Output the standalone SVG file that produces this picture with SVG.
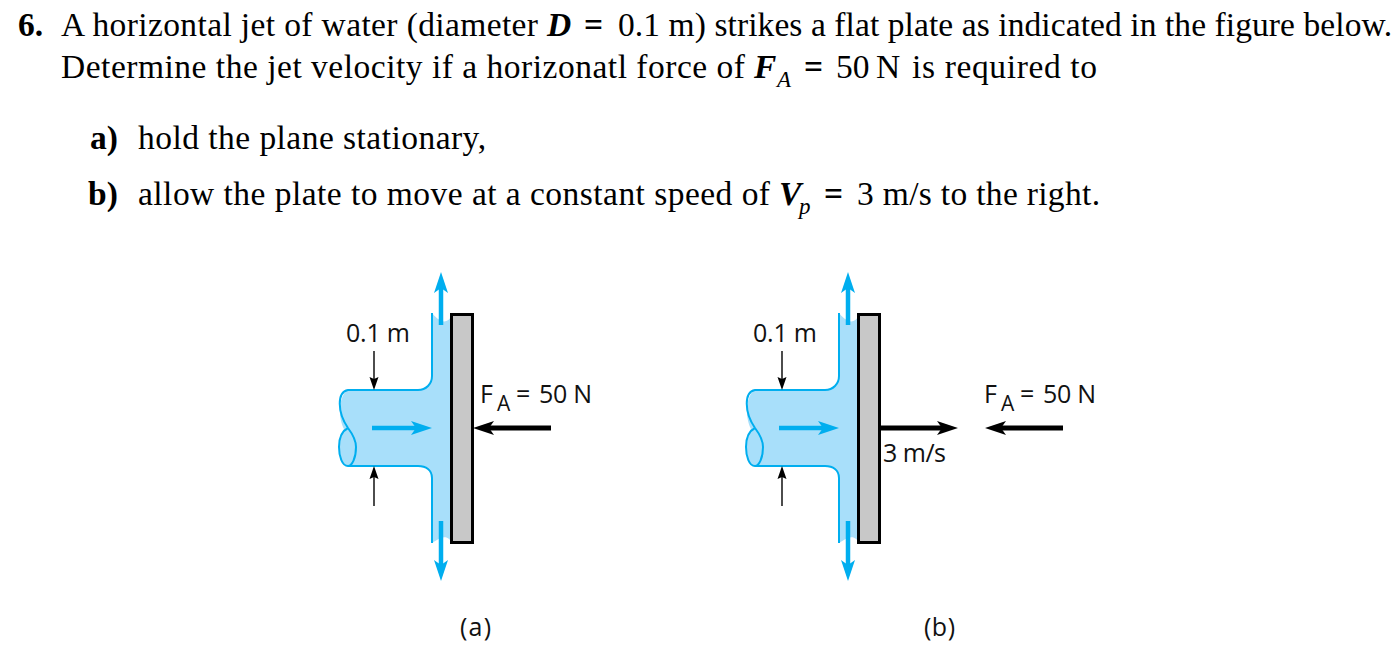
<svg xmlns="http://www.w3.org/2000/svg" xmlns:xlink="http://www.w3.org/1999/xlink" width="1398" height="654" viewBox="0 0 1398 654">
<style>
.q{font-family:"Liberation Serif","Times New Roman",serif;font-size:33.5px;fill:#000}
.b{font-weight:bold}.i{font-style:italic}
.sub{font-size:23px}
.l{font-family:"Open Sans","Noto Sans",sans-serif;font-size:25px;fill:#111}
.s{font-size:21px}
.plate{fill:#c8c8c8;stroke:#000;stroke-width:3}
.water{fill:#a8dffa;stroke:none}
.edge{fill:none;stroke:#00aeef;stroke-width:2}
.ba{stroke:#00aeef;stroke-width:4.5;fill:none}
.ka{stroke:#000;stroke-width:5;fill:none}
.ta{stroke:#000;stroke-width:1.4;fill:none}
</style>
<defs>
<marker id="mb" markerUnits="userSpaceOnUse" markerWidth="24" markerHeight="20" refX="5" refY="8" orient="auto"><path d="M0 1L21 8L0 15L5 8Z" fill="#00aeef"/></marker>
<marker id="mk" markerUnits="userSpaceOnUse" markerWidth="24" markerHeight="20" refX="5" refY="8" orient="auto"><path d="M0 1L21 8L0 15L5 8Z" fill="#000"/></marker>
<marker id="mt" markerUnits="userSpaceOnUse" markerWidth="16" markerHeight="12" refX="2" refY="5" orient="auto"><path d="M0 0.5L13 5L0 9.5L2 5Z" fill="#000"/></marker>
<g id="jet">
<path class="water" d="M432 313C436 318 446 328 452 315V543C446 531 436 541 432 543V478C432 470 426 466 418 466H348C340 462 339 452 339 447C339 440 340 434 344 429C339 420 337 400 347 390H418C426 390 432 384 432 376Z"/>
<path class="edge" d="M432 313V376C432 384 426 390 418 390H348C337 392 337 412 348 428C354 436 356 442 356 447C356 458 352 466 348 466C342 466 339 456 339 447C339 438 342 431 348 428M348 466H418C426 466 432 470 432 478V543"/>
</g>
</defs>

<g id="question">
<text class="q b" x="18" y="36">6.</text>
<text class="q" x="61" y="36" textLength="477">A horizontal jet of water (diameter</text>
<text class="q b i" x="547" y="36">D</text>
<text class="q b" x="584" y="36">=</text>
<text class="q" x="618" y="36" textLength="774">0.1 m) strikes a flat plate as indicated in the figure below.</text>
<text class="q" x="61" y="78" textLength="684">Determine the jet velocity if a horizonatl force of</text>
<text class="q b i" x="754" y="78">F</text>
<text class="q sub i" x="777" y="87">A</text>
<text class="q b" x="804" y="78">=</text>
<text class="q" x="836" y="78">50</text>
<text class="q" x="876" y="78">N</text>
<text class="q" x="912" y="78" textLength="185">is required to</text>
<text class="q b" x="90" y="149">a)</text>
<text class="q" x="138" y="149" textLength="348">hold the plane stationary,</text>
<text class="q b" x="88" y="205">b)</text>
<text class="q" x="138" y="205" textLength="632">allow the plate to move at a constant speed of</text>
<text class="q b i" x="779" y="205">V</text>
<text class="q sub i" x="799" y="214">p</text>
<text class="q b" x="824" y="205">=</text>
<text class="q" x="857" y="205" textLength="243">3 m/s to the right.</text>
</g>

<g id="jet-a"><use href="#jet" xlink:href="#jet"/></g>
<g id="plate-a"><rect class="plate" x="451.5" y="314.5" width="21" height="228"/></g>
<g id="jet-b"><use href="#jet" xlink:href="#jet" transform="translate(407 0)"/></g>
<g id="plate-b"><rect class="plate" x="858.5" y="314.5" width="21" height="228"/></g>

<g id="connectors">
<line class="ba" x1="372" y1="428" x2="416" y2="428" marker-end="url(#mb)"/>
<line class="ba" x1="441" y1="325" x2="441" y2="288" marker-end="url(#mb)"/>
<line class="ba" x1="441" y1="521" x2="441" y2="565" marker-end="url(#mb)"/>
<line class="ka" x1="551" y1="428" x2="489" y2="428" marker-end="url(#mk)"/>
<line class="ta" x1="374" y1="351" x2="374" y2="379" marker-end="url(#mt)"/>
<line class="ta" x1="374" y1="506" x2="374" y2="477" marker-end="url(#mt)"/>
<line class="ba" x1="779" y1="428" x2="823" y2="428" marker-end="url(#mb)"/>
<line class="ba" x1="848" y1="325" x2="848" y2="288" marker-end="url(#mb)"/>
<line class="ba" x1="848" y1="521" x2="848" y2="565" marker-end="url(#mb)"/>
<line class="ka" x1="880" y1="428" x2="942" y2="428" marker-end="url(#mk)"/>
<line class="ka" x1="1063" y1="428" x2="1001" y2="428" marker-end="url(#mk)"/>
<line class="ta" x1="782" y1="351" x2="782" y2="379" marker-end="url(#mt)"/>
<line class="ta" x1="782" y1="506" x2="782" y2="477" marker-end="url(#mt)"/>
</g>

<g id="labels-a">
<text class="l" x="346" y="342" textLength="64">0.1 m</text>
<text class="l" x="480" y="403">F</text>
<text class="l s" x="497" y="411">A</text>
<text class="l" x="516" y="403">=</text>
<text class="l" x="539" y="403" textLength="53">50 N</text>
<text class="l" x="460" y="636" textLength="31">(a)</text>
</g>
<g id="labels-b">
<text class="l" x="753" y="342" textLength="64">0.1 m</text>
<text class="l" x="984" y="403">F</text>
<text class="l s" x="1001" y="411">A</text>
<text class="l" x="1020" y="403">=</text>
<text class="l" x="1043" y="403" textLength="53">50 N</text>
<text class="l" x="883" y="462" textLength="63">3 m/s</text>
<text class="l" x="924" y="636" textLength="31">(b)</text>
</g>
</svg>
